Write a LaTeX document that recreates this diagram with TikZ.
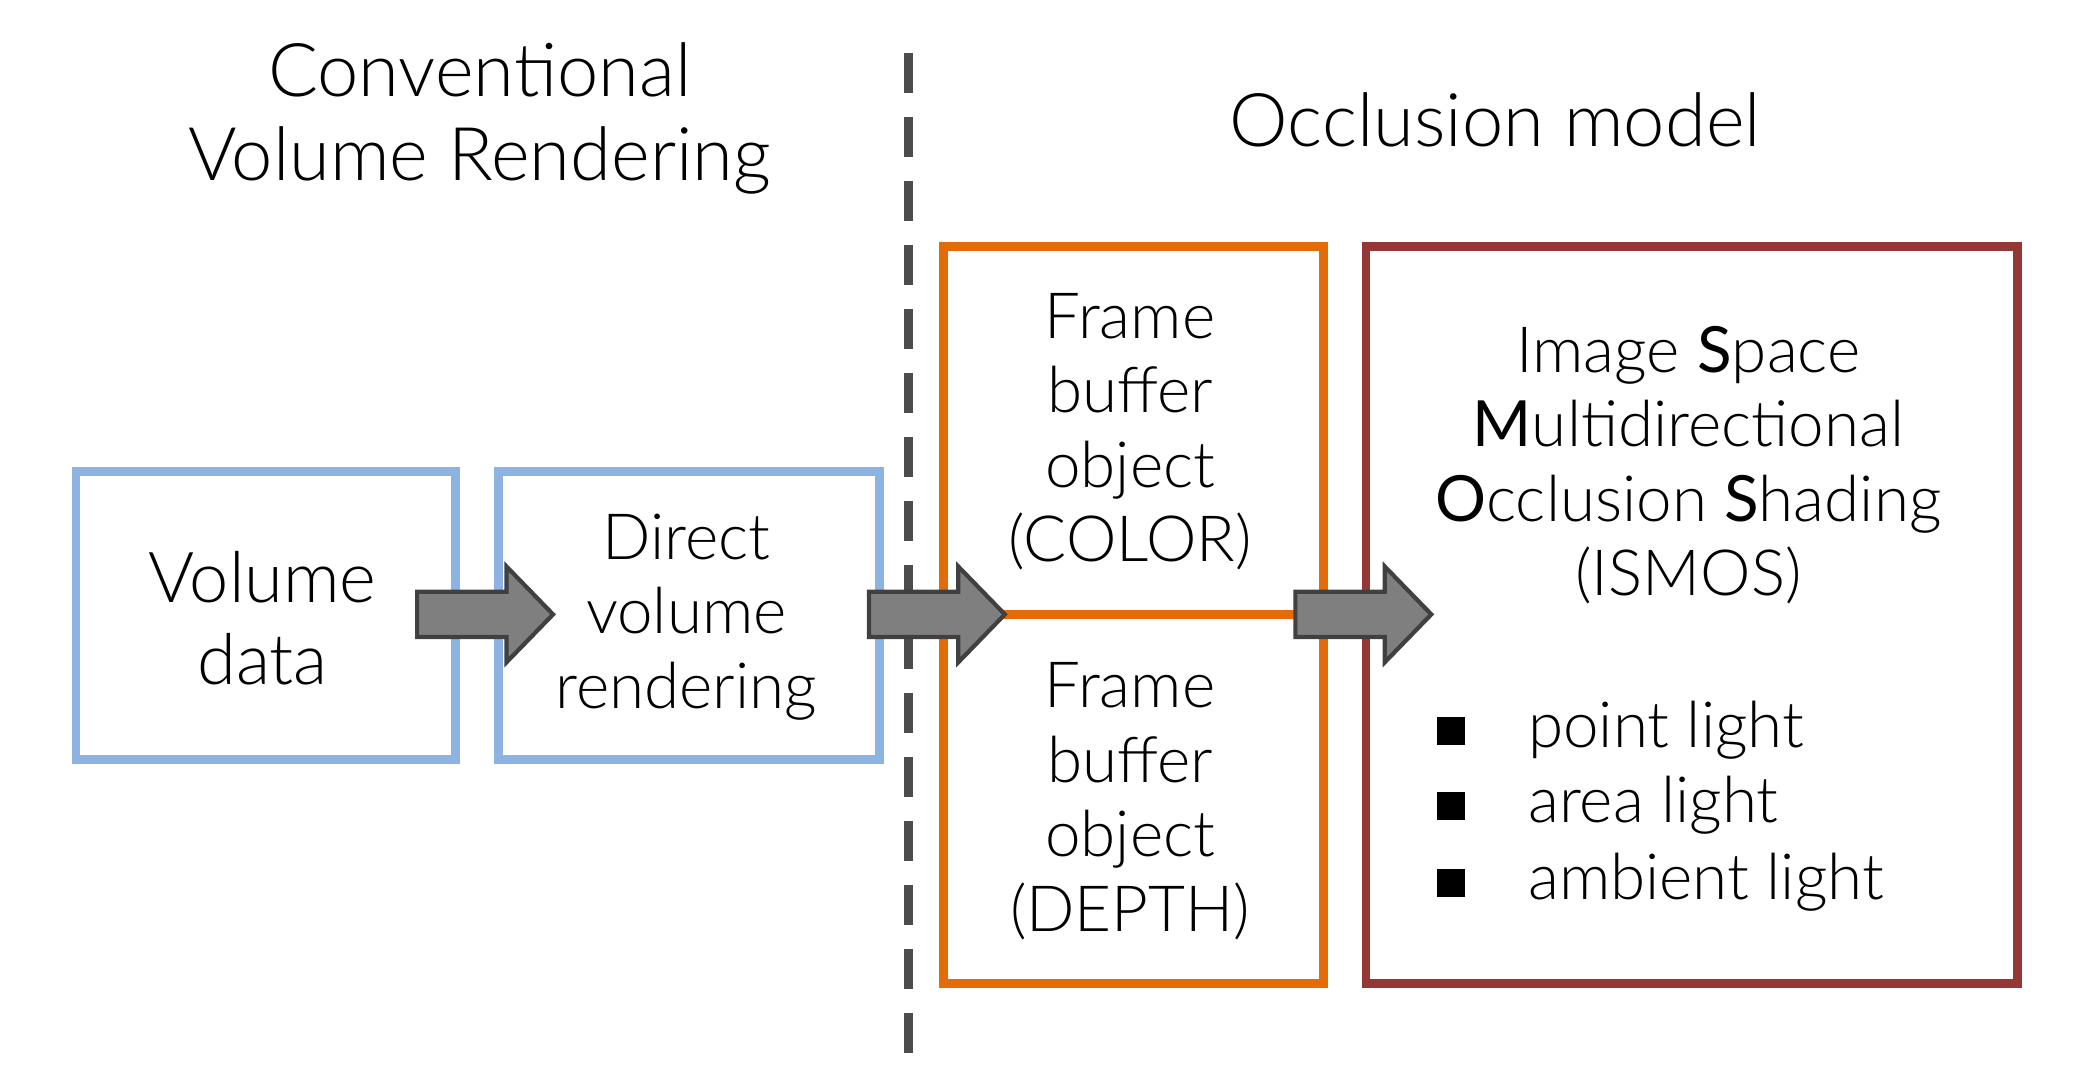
\documentclass[tikz,border=0pt]{standalone}
\usepackage{fontspec}
\setmainfont{Lato}[UprightFont=* Light,BoldFont=*]
\begin{document}
\begin{tikzpicture}[x=0.01cm,y=-0.01cm,
  box/.style={draw,line width=1.9pt},
  t/.style={align=center,font=\fontsize{13.6}{15.9}\selectfont,inner sep=0},
  ttl/.style={align=center,font=\fontsize{15.8}{17.9}\selectfont,inner sep=0},
  barrow/.style={fill=arrowgray,draw=black!75,line width=0.9pt,line join=miter},
]
\definecolor{arrowgray}{HTML}{7F7F7F}
\definecolor{bluebox}{HTML}{8DB3E2}
\definecolor{orangebox}{HTML}{E36C09}
\definecolor{redbox}{HTML}{953735}
\useasboundingbox (0,0) rectangle (1560,817);
% dashed separator
\coordinate (dtop) at (682,40);
\coordinate (dbot) at (682,797);
\draw[black!70,line width=1.9pt,dash pattern=on 0.3cm off 0.18cm] (dtop) -- (dbot);
% titles
\node[ttl] (t1) at (360,89) {Conventional\\Volume Rendering};
\node[ttl] (t2) at (1122,90) {Occlusion model};
% boxes
\draw[box,draw=bluebox] (57,354) rectangle (342,570);
\draw[box,draw=bluebox] (374,354) rectangle (660,570);
\draw[box,draw=orangebox] (708,185) rectangle (993,738);
\draw[box,draw=orangebox] (752,461) -- (993,461);
\draw[box,draw=redbox] (1025,185) rectangle (1514,738);
% arrows
\foreach \x/\n in {313/a1,652/a2,972/a3}{
  \draw[barrow] (\x,444) -- ++(67,0) -- ++(0,-19) -- ++(35,36) -- ++(-35,36) -- ++(0,-19) -- ++(-67,0) -- cycle;
}
% texts
\node[t,font=\fontsize{15}{17.6}\selectfont] (vd) at (197,464) {Volume\\data};
\node[t] (dvr) at (515,463) {Direct\\volume\\rendering};
\node[t] (fbc) at (848,324) {Frame\\buffer\\object\\(COLOR)};
\node[t] (fbd) at (848,601) {Frame\\buffer\\object\\(DEPTH)};
\node[t] (is) at (1267,349) {Image \textbf{S}pace\\\textbf{M}ultidirectional\\\textbf{O}cclusion \textbf{S}hading\\(ISMOS)};
\foreach \y/\s/\n in {548/point light/b1,604/area light/b2,662/ambient light/b3}{
  \fill (1078,\y) ++(0,-10) rectangle ++(21,21);
  \node[t,anchor=west] (\n) at (1146,\y) {\s};
}
\end{tikzpicture}
\end{document}
